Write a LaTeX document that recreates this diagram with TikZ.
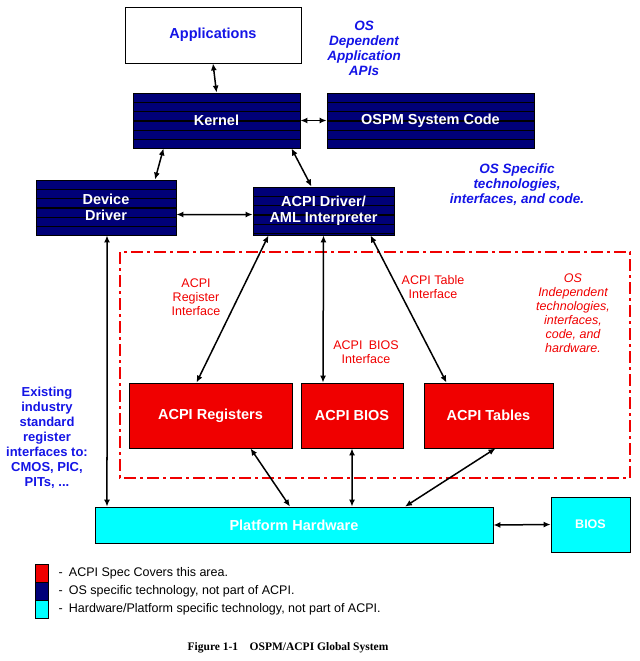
\documentclass[tikz,border=0pt]{standalone}
\usepackage{fontspec}
\setmainfont{Liberation Sans}
\newfontfamily\capfont{Liberation Serif}
\usetikzlibrary{arrows.meta}
\definecolor{navy}{RGB}{0,0,120}
\definecolor{acpired}{RGB}{240,0,0}
\definecolor{hwcyan}{RGB}{0,255,255}
\definecolor{osblue}{RGB}{20,20,230}
\tikzset{
  box/.style={draw,line width=0.8bp,inner sep=0pt,align=center,font=\bfseries\fontsize{14.5bp}{16bp}\selectfont},
  osbox/.style={box,fill=navy,text=white,
    path picture={\foreach \k in {1,...,5}
      \draw[line width=1.4bp] ([yshift=-\k*9.3bp]path picture bounding box.north west) -- ([yshift=-\k*9.3bp]path picture bounding box.north east);}},
  specbox/.style={box,fill=acpired,text=white},
  hwbox/.style={box,fill=hwcyan,text=white},
  lbl/.style={align=center,text=acpired,font=\fontsize{12.5bp}{14bp}\selectfont},
  note/.style={align=center,text=osblue,font=\bfseries\itshape\fontsize{13.5bp}{15bp}\selectfont},
  link/.style={{Latex[length=7bp,width=6bp]}-{Latex[length=7bp,width=6bp]},line width=1.5bp}
}
\begin{document}
\begin{tikzpicture}[x=1bp,y=-1bp]
\useasboundingbox (0,0) rectangle (640,661);
%% boxes
\node (apps) at (213,35) [box,text=osblue,minimum width=176bp,minimum height=56bp] {Applications};
\node (kernel) at (216.5,120.5) [osbox,minimum width=167bp,minimum height=55bp] {Kernel};
\node (ospm) at (430.5,120.5) [osbox,minimum width=207bp,minimum height=55bp] {OSPM System Code};
\node (devdrv) at (106,207.5) [osbox,minimum width=140bp,minimum height=55bp] {Device\\Driver};
\node (aml) at (323.5,211) [osbox,minimum width=141bp,minimum height=48bp] {ACPI Driver/\\AML Interpreter};
\draw[acpired,line width=2bp,dash pattern=on 12bp off 4bp on 3bp off 4bp] (120,252) rectangle (630,478);
\node (regs) at (210.5,415.5) [specbox,minimum width=163bp,minimum height=65bp] {ACPI Registers};
\node (abios) at (352,415.5) [specbox,minimum width=102bp,minimum height=65bp] {ACPI BIOS};
\node (tables) at (488.5,415.5) [specbox,minimum width=129bp,minimum height=65bp] {ACPI Tables};
\node (platform) at (294,525) [hwbox,minimum width=398bp,minimum height=36bp] {Platform Hardware};
\node (bios) at (590.5,524.5) [hwbox,minimum width=79bp,minimum height=55bp,font=\bfseries\fontsize{12.5bp}{14bp}\selectfont] {BIOS};
%% texts
\node (osdep) at (364,48) [note] {OS\\Dependent\\Application\\APIs};
\node (osspec) at (517,185) [note] {OS Specific\\technologies,\\interfaces, and code.};
\node (osind) at (573,313) [lbl,font=\itshape\fontsize{12.5bp}{14bp}\selectfont] {OS\\Independent\\technologies,\\interfaces,\\code, and\\hardware.};
\node (existing) at (47,438) [note,font=\bfseries\fontsize{13bp}{15bp}\selectfont] {Existing\\industry\\standard\\register\\interfaces to:\\CMOS, PIC,\\PITs, ...};
\node (reglbl) at (196,297) [lbl] {ACPI\\Register\\Interface};
\node (bioslbl) at (366,352) [lbl] {ACPI\enspace BIOS\\Interface};
\node (tbllbl) at (433,287) [lbl] {ACPI Table\\Interface};
%% connectors
\draw[link] (apps.south) -- (kernel.north);
\draw[link] (kernel.east) -- (ospm.west);
\draw[link] ([xshift=-53bp]kernel.south) -- ([xshift=49bp]devdrv.north);
\draw[link] ([xshift=75bp]kernel.south) -- ([xshift=-12bp]aml.north);
\draw[link] ([yshift=-7bp]devdrv.east) -- ([yshift=-3.5bp]aml.west);
\draw[link] ([xshift=-55bp]aml.south) -- ([xshift=-14bp]regs.north);
\draw[link] (aml.south) -- ([xshift=-29bp]abios.north);
\draw[link] ([xshift=47bp]aml.south) -- ([xshift=-42bp]tables.north);
\draw[link] ([xshift=1bp]devdrv.south) -- ([xshift=-187bp]platform.north);
\draw[link] ([xshift=40bp]regs.south) -- ([xshift=-4bp]platform.north);
\draw[link] (abios.south) -- ([xshift=58bp]platform.north);
\draw[link] ([xshift=7bp]tables.south) -- ([xshift=111bp]platform.north);
\draw[link] (platform.east) -- (bios.west);
%% legend
\node (keyred) at (41.5,573) [draw,fill=acpired,minimum width=13bp,minimum height=18bp,inner sep=0pt] {};
\node (keyblue) at (41.5,591) [draw,fill=navy,minimum width=13bp,minimum height=18bp,inner sep=0pt] {};
\node (keycyan) at (41.5,609) [draw,fill=hwcyan,minimum width=13bp,minimum height=18bp,inner sep=0pt] {};
\node (keytxt1) at (55,573) [anchor=west,font=\fontsize{12.5bp}{14bp}\selectfont] {-\enspace ACPI Spec Covers this area.};
\node (keytxt2) at (55,591) [anchor=west,font=\fontsize{12.5bp}{14bp}\selectfont] {-\enspace OS specific technology, not part of ACPI.};
\node (keytxt3) at (55,609) [anchor=west,font=\fontsize{12.5bp}{14bp}\selectfont] {-\enspace Hardware/Platform specific technology, not part of ACPI.};
\node (caption) at (288,648) [font=\capfont\bfseries\fontsize{11.5bp}{13bp}\selectfont] {Figure 1-1\quad OSPM/ACPI Global System};
%
\end{tikzpicture}
\end{document}
